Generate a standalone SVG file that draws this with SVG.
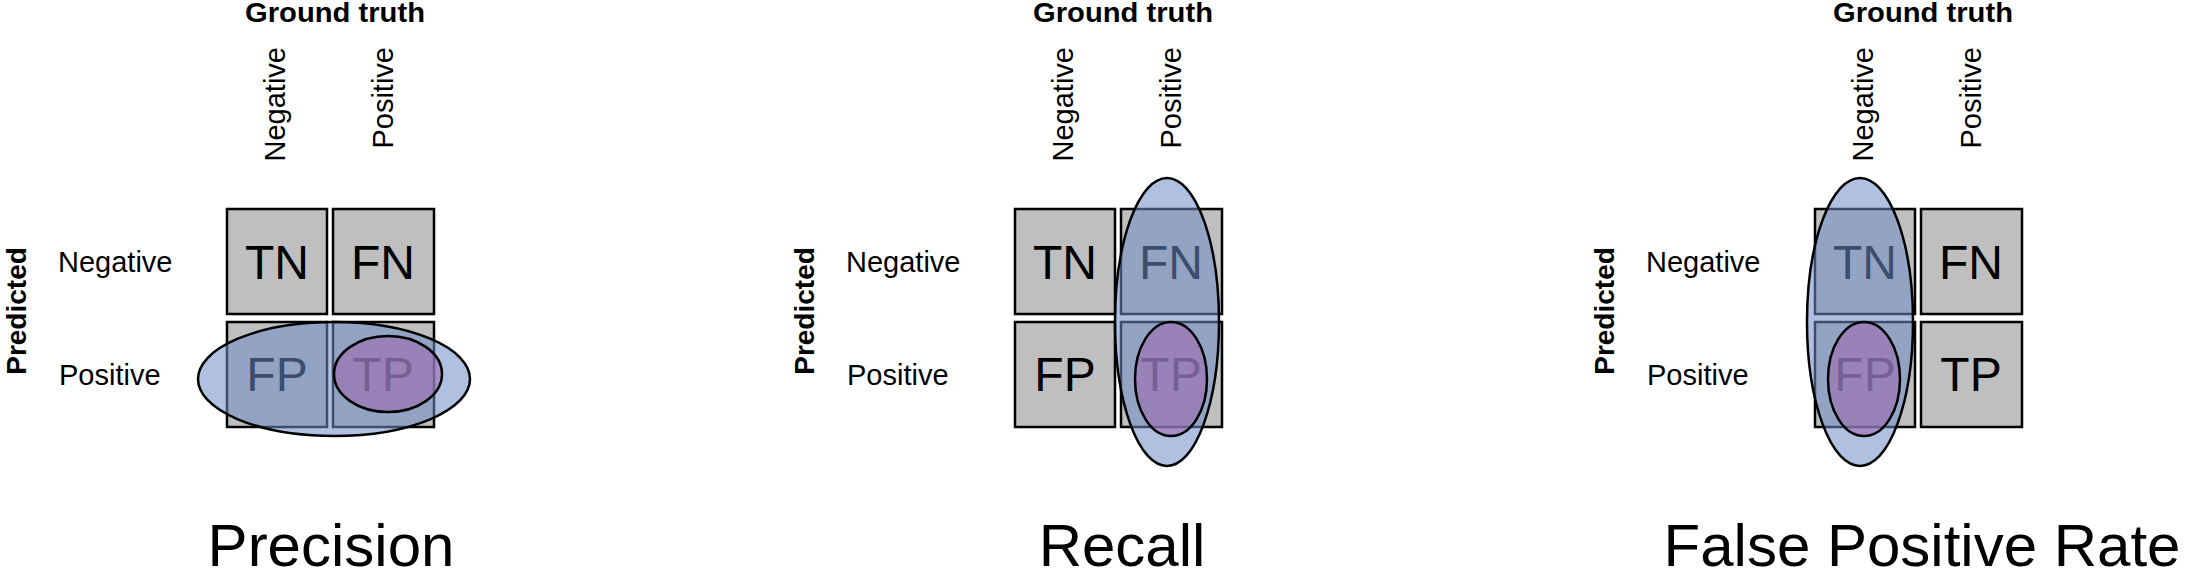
<svg xmlns="http://www.w3.org/2000/svg" width="2188" height="574" viewBox="0 0 2188 574">
<defs>
<style>
text{font-family:"Liberation Sans",Arial,sans-serif;fill:#000}
.cell{fill:#bfbfbf;stroke:#000;stroke-width:2.5}
.ct{font-size:48px;text-anchor:middle}
.lbl{font-size:29px}
.gt{font-size:27px;font-weight:bold;text-anchor:middle}
.pr{font-size:28px;font-weight:bold;text-anchor:middle}
.title{font-size:60px;text-anchor:middle}
.big{fill:#6f8cc6;fill-opacity:0.55;stroke:#000;stroke-width:2.5}
.small{fill:#9d6cb0;fill-opacity:0.6;stroke:#000;stroke-width:2.5}
</style>
<g id="matrix">
<text class="gt" x="335" y="22" textLength="180" lengthAdjust="spacingAndGlyphs">Ground truth</text>
<text class="lbl" transform="translate(285,47) rotate(-90)" text-anchor="end">Negative</text>
<text class="lbl" transform="translate(393,47) rotate(-90)" text-anchor="end">Positive</text>
<text class="pr" transform="translate(26,311) rotate(-90)">Predicted</text>
<text class="lbl" x="58" y="272">Negative</text>
<text class="lbl" x="59" y="385">Positive</text>
<rect class="cell" x="227" y="209" width="100" height="105"/>
<rect class="cell" x="333" y="209" width="101" height="105"/>
<rect class="cell" x="227" y="322" width="100" height="105"/>
<rect class="cell" x="333" y="322" width="101" height="105"/>
<text class="ct" x="277" y="279">TN</text>
<text class="ct" x="383" y="279">FN</text>
<text class="ct" x="277" y="391">FP</text>
<text class="ct" x="383" y="391">TP</text>
</g>
</defs>
<g id="precision">
<use href="#matrix"/>
<ellipse class="big" cx="334" cy="379" rx="136" ry="57"/>
<ellipse class="small" cx="388" cy="374" rx="54" ry="38"/>
<text class="title" x="331" y="566">Precision</text>
</g>
<g id="recall" transform="translate(788,0)">
<use href="#matrix"/>
<ellipse class="big" cx="379" cy="322" rx="52" ry="144"/>
<ellipse class="small" cx="383" cy="379" rx="36" ry="57"/>
<text class="title" x="334" y="566">Recall</text>
</g>
<g id="fpr" transform="translate(1588,0)">
<use href="#matrix"/>
<ellipse class="big" cx="272" cy="322" rx="53" ry="144"/>
<ellipse class="small" cx="276" cy="379" rx="36" ry="57"/>
<text class="title" x="334" y="566">False Positive Rate</text>
</g>
<g id="connectors"/>
</svg>
